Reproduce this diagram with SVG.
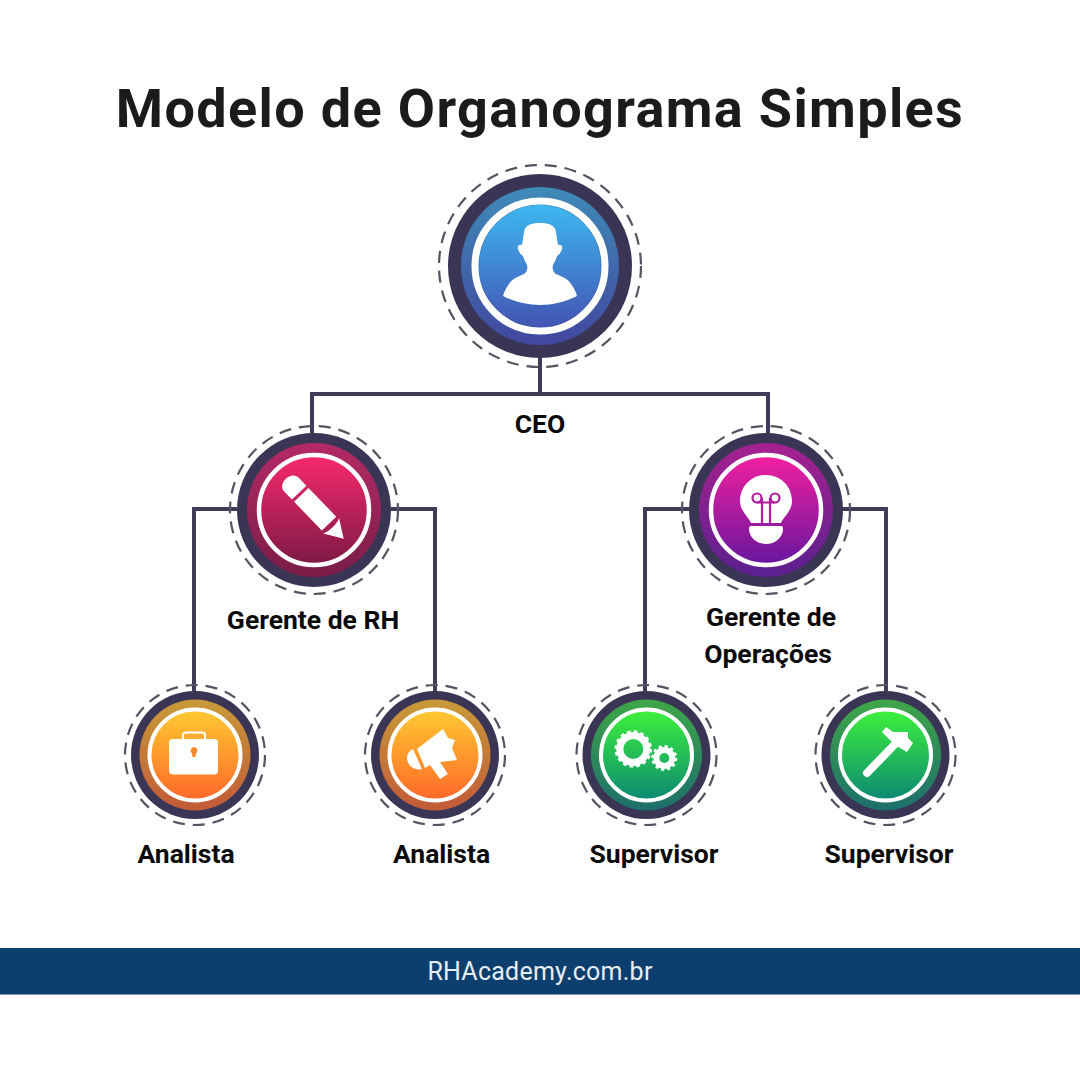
<svg xmlns="http://www.w3.org/2000/svg" width="1080" height="1080" viewBox="0 0 1080 1080">
<style>
.t{font-family:Roboto,"Liberation Sans",sans-serif;font-weight:700;font-size:26.500px;fill:#0a0a0a;text-anchor:middle}
.title{font-family:Roboto,"Liberation Sans",sans-serif;font-weight:700;font-size:54px;fill:#1b1b1b;text-anchor:middle;letter-spacing:1.350px}
.foot{font-family:Roboto,"Liberation Sans",sans-serif;font-weight:400;font-size:25px;fill:#e8eef4;text-anchor:middle;letter-spacing:.25px}
.dash{fill:none;stroke:#55535f;stroke-width:2.200;stroke-dasharray:12 8}
.dark{fill:#3a3555}
.ring{fill:none;stroke:#fff}
.w{fill:#fff}
.c{fill:none;stroke:#3f3c59;stroke-width:4}
</style>
<defs>
<linearGradient id="bA" x1="0" y1="0" x2="0" y2="1"><stop offset="0" stop-color="#3f8bb8"/><stop offset="1" stop-color="#41479f"/></linearGradient>
<linearGradient id="bB" x1="0" y1="0" x2="0" y2="1"><stop offset="0" stop-color="#3db8f0"/><stop offset="1" stop-color="#4354b3"/></linearGradient>
<linearGradient id="rA" x1="0" y1="0" x2="0" y2="1"><stop offset="0" stop-color="#b42a66"/><stop offset="1" stop-color="#7a1d48"/></linearGradient>
<linearGradient id="rB" x1="0" y1="0" x2="0" y2="1"><stop offset="0" stop-color="#f6286e"/><stop offset="1" stop-color="#7f1a44"/></linearGradient>
<linearGradient id="mA" x1="0" y1="0" x2="0" y2="1"><stop offset="0" stop-color="#a5228f"/><stop offset="1" stop-color="#5c2090"/></linearGradient>
<linearGradient id="mB" x1="0" y1="0" x2="0" y2="1"><stop offset="0" stop-color="#f01fa0"/><stop offset="1" stop-color="#6a179e"/></linearGradient>
<linearGradient id="oA" x1="0" y1="0" x2="0" y2="1"><stop offset="0" stop-color="#c89a38"/><stop offset="1" stop-color="#c25a38"/></linearGradient>
<linearGradient id="oB" x1="0" y1="0" x2="0" y2="1"><stop offset="0" stop-color="#ffc832"/><stop offset="1" stop-color="#ff6a28"/></linearGradient>
<linearGradient id="gA" x1="0" y1="0" x2="0" y2="1"><stop offset="0" stop-color="#3fa648"/><stop offset="1" stop-color="#1c6f6c"/></linearGradient>
<linearGradient id="gB" x1="0" y1="0" x2="0" y2="1"><stop offset="0" stop-color="#3cf03c"/><stop offset="1" stop-color="#0c8a72"/></linearGradient>
</defs>
<rect width="1080" height="1080" fill="#fff"/>
<text class="title" x="540" y="127">Modelo de Organograma Simples</text>

<g id="connectors">
<path class="c" d="M540 357V394M312 434V394H768V434"/>
<path class="c" d="M237 509H194V691M391 509H435V691"/>
<path class="c" d="M690 509H645V691M842 509H886V691"/>
</g>

<g id="node-ceo">
<circle class="dash" cx="540" cy="266" r="101"/>
<circle class="dark" cx="540" cy="266" r="92"/>
<circle cx="540" cy="266" r="79" fill="url(#bA)"/>
<circle cx="540" cy="266" r="61" fill="url(#bB)"/>
<circle class="ring" cx="540" cy="266" r="65" stroke-width="7"/>
<path class="w" d="M524 232C525 225 531 223 540 223C549 223 555 225 556 232L558 245C561 244 563 246 562 249C561 252 559 255 557 256C556 260 554 263 553 265C552 269 553 272 556 274C563 277 568 279 571 284C574 288 576 292 577 296C553 308 527 308 503 296C504 292 506 288 509 284C512 279 517 277 524 274C527 272 528 269 527 265C526 263 524 260 523 256C521 255 519 252 518 249C517 246 519 244 522 245Z"/>
<text class="t" x="540" y="433">CEO</text>
</g>

<g id="node-rh">
<circle class="dash" cx="314" cy="510" r="84"/>
<circle class="dark" cx="314" cy="510" r="77"/>
<circle cx="314" cy="510" r="67" fill="url(#rA)"/>
<circle cx="314" cy="510" r="53" fill="url(#rB)"/>
<circle class="ring" cx="314" cy="510" r="55" stroke-width="4.500"/>
<g transform="translate(286,479) rotate(46)">
<path class="w" d="M19 -10V10H8C-3 10 -3 -10 8 -10Z"/>
<path class="w" d="M22 -10H62V10H22Z"/>
<path class="w" d="M65 -11C68 -6 68 6 65 11L83 0Z"/>
</g>
<text class="t" x="313" y="629">Gerente de RH</text>
</g>

<g id="node-ops">
<circle class="dash" cx="766" cy="510" r="84"/>
<circle class="dark" cx="766" cy="510" r="77"/>
<circle cx="766" cy="510" r="67" fill="url(#mA)"/>
<circle cx="766" cy="510" r="53" fill="url(#mB)"/>
<circle class="ring" cx="766" cy="510" r="55" stroke-width="4.500"/>
<path class="w" d="M766 475C781 475 792 487 792 501C792 511 784 516 781 523H751C748 516 740 511 740 501C740 487 751 475 766 475Z"/>
<path class="w" d="M751 526H781C783 526 783 528 783 530C782 538 775 544 766 544C757 544 750 538 749 530C749 528 749 526 751 526Z"/>
<g fill="none" stroke="#b01c9c" stroke-width="2.200">
<circle cx="757" cy="498" r="4.500"/>
<circle cx="775" cy="498" r="4.500"/>
<path d="M762 498V523M770 498V523M757 502.500H775"/>
</g>
<text class="t" x="771" y="626">Gerente de</text>
<text class="t" x="768" y="663">Operações</text>
</g>

<g id="node-analista-1">
<circle class="dash" cx="195" cy="755" r="70"/>
<circle class="dark" cx="195" cy="755" r="64"/>
<circle cx="195" cy="755" r="55.500" fill="url(#oA)"/>
<circle cx="195" cy="755" r="44" fill="url(#oB)"/>
<circle class="ring" cx="195" cy="755" r="45.500" stroke-width="4"/>
<rect class="w" x="169" y="739" width="49" height="35.500" rx="4"/>
<path fill="none" stroke="#fff" stroke-width="2" d="M183 739V735Q183 732.500 186 732.500H202Q205 732.500 205 735V739"/>
<path fill="#f58a2c" d="M194 747a3.500 3.500 0 0 1 2 6.300L195.500 757H192.500L192 753.300A3.500 3.500 0 0 1 194 747Z"/>
<text class="t" x="186" y="862.500">Analista</text>
</g>

<g id="node-analista-2">
<circle class="dash" cx="435" cy="755" r="70"/>
<circle class="dark" cx="435" cy="755" r="64"/>
<circle cx="435" cy="755" r="55.500" fill="url(#oA)"/>
<circle cx="435" cy="755" r="44" fill="url(#oB)"/>
<circle class="ring" cx="435" cy="755" r="45.500" stroke-width="4"/>
<path class="w" d="M417 749L443 729L448 738L455 740L452 748L457 760L440 762L448 774L440 779L430 765L425 768Z"/>
<path class="w" d="M413 749L422 769C414 771 407 765 407 758C407 754 409 751 413 749Z"/>
<text class="t" x="441.500" y="862.500">Analista</text>
</g>

<g id="node-supervisor-1">
<circle class="dash" cx="646.500" cy="755" r="70"/>
<circle class="dark" cx="646.500" cy="755" r="64"/>
<circle cx="646.500" cy="755" r="55.500" fill="url(#gA)"/>
<circle cx="646.500" cy="755" r="44" fill="url(#gB)"/>
<circle class="ring" cx="646.500" cy="755" r="45.500" stroke-width="4"/>
<circle cx="633.300" cy="749" r="13.500" fill="none" stroke="#fff" stroke-width="7"/>
<circle cx="633.300" cy="749" r="17" fill="none" stroke="#fff" stroke-width="3.500" stroke-dasharray="3.500 3.170"/>
<circle cx="664.300" cy="758" r="8" fill="none" stroke="#fff" stroke-width="6"/>
<circle cx="664.300" cy="758" r="11.500" fill="none" stroke="#fff" stroke-width="3" stroke-dasharray="3 3.020"/>
<text class="t" x="654" y="862.500">Supervisor</text>
</g>

<g id="node-supervisor-2">
<circle class="dash" cx="885.500" cy="755" r="70"/>
<circle class="dark" cx="885.500" cy="755" r="64"/>
<circle cx="885.500" cy="755" r="55.500" fill="url(#gA)"/>
<circle cx="885.500" cy="755" r="44" fill="url(#gB)"/>
<circle class="ring" cx="885.500" cy="755" r="45.500" stroke-width="4"/>
<path fill="none" stroke="#fff" stroke-width="8" stroke-linecap="round" d="M867 773L899 740"/>
<path class="w" d="M886 727L893 732L908 732L908 738L913 743L907 752L895 745L882 732Z"/>
<text class="t" x="889" y="862.500">Supervisor</text>
</g>

<g id="footer">
<rect x="0" y="948" width="1080" height="46.500" fill="#0d3f6e"/>
<text class="foot" x="540" y="980">RHAcademy.com.br</text>
</g>
</svg>
